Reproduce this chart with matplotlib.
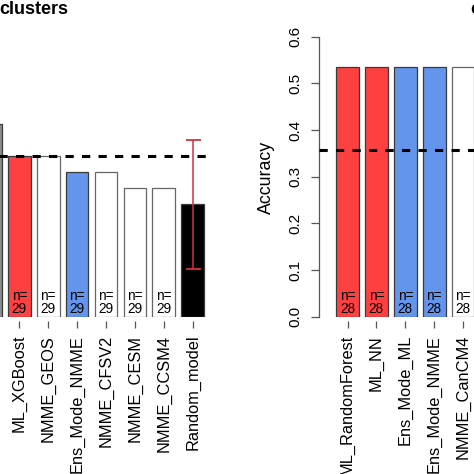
import matplotlib
matplotlib.use("Agg")
import matplotlib.pyplot as plt

plt.rcParams['font.family'] = ['Liberation Sans', 'DejaVu Sans']

# ---------------- data ----------------
left_labels = ["", "ML_XGBoost", "NMME_GEOS", "Ens_Mode_NMME", "NMME_CFSV2",
               "NMME_CESM", "NMME_CCSM4", "Random_model"]
left_acc = [0.414, 0.345, 0.345, 0.310, 0.310, 0.276, 0.276, 0.2415]
left_colors = ["#8c8c8c", "#FF4040", "white", "#6495ED", "white", "white", "white", "black"]
left_n = [None, 29, 29, 29, 29, 29, 29, None]
left_ref = 0.345
random_low = 0.103
random_high = 0.379

right_labels = ["ML_RandomForest", "ML_NN", "Ens_Mode_ML", "Ens_Mode_NMME", "NMME_CanCM4"]
right_acc = [0.536, 0.536, 0.536, 0.536, 0.536]
right_colors = ["#FF4040", "#FF4040", "#6495ED", "#6495ED", "white"]
right_n = [28, 28, 28, 28, 28]
right_ref = 0.357

yticks = [0.0, 0.1, 0.2, 0.3, 0.4, 0.5, 0.6]

# ---------------- layout ----------------
W = H = 474
fig = plt.figure(figsize=(4.74, 4.74), dpi=100)

step = 28.9
bw = 0.785
bot_px, top_px = 316.7, 36.7

def make_axes(left_px, right_px, c0_px):
    ax = fig.add_axes([left_px / W, (H - bot_px) / H,
                       (right_px - left_px) / W, (bot_px - top_px) / H])
    ax.set_xlim((left_px - c0_px) / step, (right_px - c0_px) / step)
    ax.set_ylim(0, 0.6)
    for s in ["top", "right"]:
        ax.spines[s].set_visible(False)
    ax.spines["bottom"].set_position(("outward", 3))
    ax.spines["bottom"].set_color("none")
    ax.tick_params(axis="x", length=5, width=0.9, color="#555555", pad=5,
                   labelsize=11.8, labelrotation=90)
    return ax

def draw_bars(ax, labels, acc, colors, ns):
    xs = list(range(len(labels)))
    for x, v, c in zip(xs, acc, colors):
        ec = "#3a3a3a" if c != "white" else "#666666"
        ax.bar(x, v, width=bw, color=c, edgecolor=ec, linewidth=0.9, zorder=2)
    for x, n in zip(xs, ns):
        if n is not None:
            ax.text(x, 0.0365, "n=", ha="center", va="baseline",
                    fontsize=9.8, color="black", zorder=4)
            ax.text(x, 0.0073, "%d" % n, ha="center", va="baseline",
                    fontsize=9.8, color="black", zorder=4)
    ax.set_xticks(xs)
    ax.set_xticklabels(labels)

# left panel
axL = make_axes(-60, 213, -9.6)
axL.spines["left"].set_visible(False)
axL.tick_params(axis="y", left=False, labelleft=False)
draw_bars(axL, left_labels, left_acc, left_colors, left_n)
axL.axhline(left_ref, color="black", lw=2.2, ls=(0, (2.7, 2.7)), zorder=3)
ri = len(left_labels) - 1
axL.errorbar([ri], [left_acc[ri]],
             yerr=[[left_acc[ri] - random_low], [random_high - left_acc[ri]]],
             fmt="none", ecolor="#D3313F", elinewidth=1.1, capsize=5.4,
             capthick=1.3, zorder=5)

# right panel
axR = make_axes(319, 560, 347.5)
axR.spines["left"].set_color("#555555")
axR.spines["left"].set_linewidth(0.9)
axR.set_yticks(yticks)
axR.set_yticklabels(["%.1f" % t for t in yticks])
axR.tick_params(axis="y", length=5.8, width=0.9, color="#555555", pad=6,
                labelsize=11, labelrotation=90)
for lab in axR.get_yticklabels():
    lab.set_va("center")
draw_bars(axR, right_labels, right_acc, right_colors, right_n)
axR.axhline(right_ref, color="black", lw=2.2, ls=(0, (2.7, 2.7)), zorder=3)

fig.text(266.7 / W, 1 - 177.4 / H, "Accuracy", rotation=90, ha="center",
         va="center", fontsize=12.8)

# titles (cropped at the image edges)
fig.text(-0.5 / W, 1 - 14 / H, "clusters", fontsize=13, fontweight="bold",
         ha="left", va="baseline")
fig.text(470.5 / W, 1 - 14 / H, "c", fontsize=13, fontweight="bold",
         ha="left", va="baseline")

fig.savefig("out.png", dpi=100)
